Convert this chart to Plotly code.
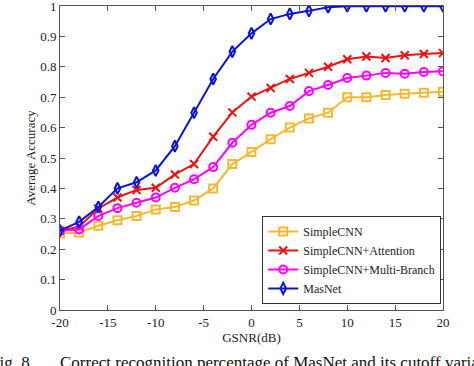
import plotly.graph_objects as go

gsnr = list(range(-20, 21, 2))
simplecnn = [0.252, 0.255, 0.277, 0.295, 0.309, 0.331, 0.339, 0.360, 0.400, 0.480, 0.520,
             0.562, 0.600, 0.630, 0.649, 0.700, 0.700, 0.707, 0.711, 0.715, 0.718]
attention = [0.261, 0.274, 0.334, 0.370, 0.395, 0.402, 0.446, 0.480, 0.570, 0.650, 0.702,
             0.730, 0.760, 0.780, 0.800, 0.825, 0.834, 0.829, 0.838, 0.842, 0.845]
multibranch = [0.260, 0.265, 0.309, 0.335, 0.353, 0.370, 0.402, 0.430, 0.470, 0.550, 0.609,
               0.649, 0.671, 0.720, 0.740, 0.763, 0.771, 0.780, 0.777, 0.783, 0.785]
masnet = [0.261, 0.290, 0.339, 0.400, 0.420, 0.459, 0.539, 0.649, 0.760, 0.850, 0.910,
          0.957, 0.974, 0.984, 0.996, 0.999, 0.999, 0.999, 0.999, 0.999, 0.999]
x_ticks = [-20, -15, -10, -5, 0, 5, 10, 15, 20]
x_ticklabels = ["-20", "-15", "-10", "-5", "0", "5", "10", "15", "20"]
y_ticks = [0, 0.1, 0.2, 0.3, 0.4, 0.5, 0.6, 0.7, 0.8, 0.9, 1]
y_ticklabels = ["0", "0.1", "0.2", "0.3", "0.4", "0.5", "0.6", "0.7", "0.8", "0.9", "1"]

series = [
    ("SimpleCNN", simplecnn, "#F5B82E", "square-open"),
    ("SimpleCNN+Attention", attention, "#EE1111", "x-thin-open"),
    ("SimpleCNN+Multi-Branch", multibranch, "#FF00FF", "circle-open"),
    ("MasNet", masnet, "#0A14D8", "diamond-tall-open"),
]

fig = go.Figure()
for name, ys, color, sym in series:
    fig.add_trace(go.Scatter(
        x=gsnr, y=ys, name=name, mode="lines+markers",
        line=dict(color=color, width=2),
        marker=dict(symbol=sym, size=8, color=color, line=dict(color=color, width=2)),
    ))

font = "Liberation Serif, Times New Roman, serif"
axcol = "#555555"
fig.update_layout(
    width=474, height=366,
    margin=dict(l=60, r=31, t=6, b=56, autoexpand=False),
    paper_bgcolor="white", plot_bgcolor="white",
    font=dict(family=font, size=13, color="#222222"),
    showlegend=True,
    legend=dict(x=0.528, y=0.02, xanchor="left", yanchor="bottom",
                bordercolor="#333333", borderwidth=1, bgcolor="white",
                font=dict(family=font, size=12), tracegroupgap=0,
                itemwidth=30),
    xaxis=dict(range=[-20, 20], tickmode="array", tickvals=x_ticks, ticktext=x_ticklabels,
               showgrid=False, zeroline=False, showline=True, linecolor=axcol,
               linewidth=1, mirror="ticks", ticks="inside", ticklen=5, tickcolor=axcol,
               automargin=False, ticklabeloverflow="allow",
               title=dict(text="GSNR(dB)", standoff=4, font=dict(size=13))),
    yaxis=dict(range=[0, 1], tickmode="array", tickvals=y_ticks, ticktext=y_ticklabels,
               showgrid=False, zeroline=False, showline=True, linecolor=axcol,
               linewidth=1, mirror="ticks", ticks="inside", ticklen=5, tickcolor=axcol,
               automargin=False, ticklabeloverflow="allow",
               title=dict(text="Average Accuracy", standoff=1, font=dict(size=13))),
)
cap_font = dict(family=font, size=17, color="#111111")
fig.add_annotation(
    text="Fig. 8.", xref="paper", yref="paper",
    x=(36 - 60) / 383, y=-0.174, xanchor="right", yanchor="middle",
    showarrow=False, font=cap_font,
)
fig.add_annotation(
    text="Correct recognition percentage of MasNet and its cutoff variants",
    xref="paper", yref="paper", x=(58 - 60) / 383, y=-0.174, xanchor="left", yanchor="middle",
    showarrow=False, font=cap_font,
)
fig.write_html("out.html", config={"displayModeBar": False},
               post_script="document.body.style.margin='0';document.body.style.overflow='hidden';")
